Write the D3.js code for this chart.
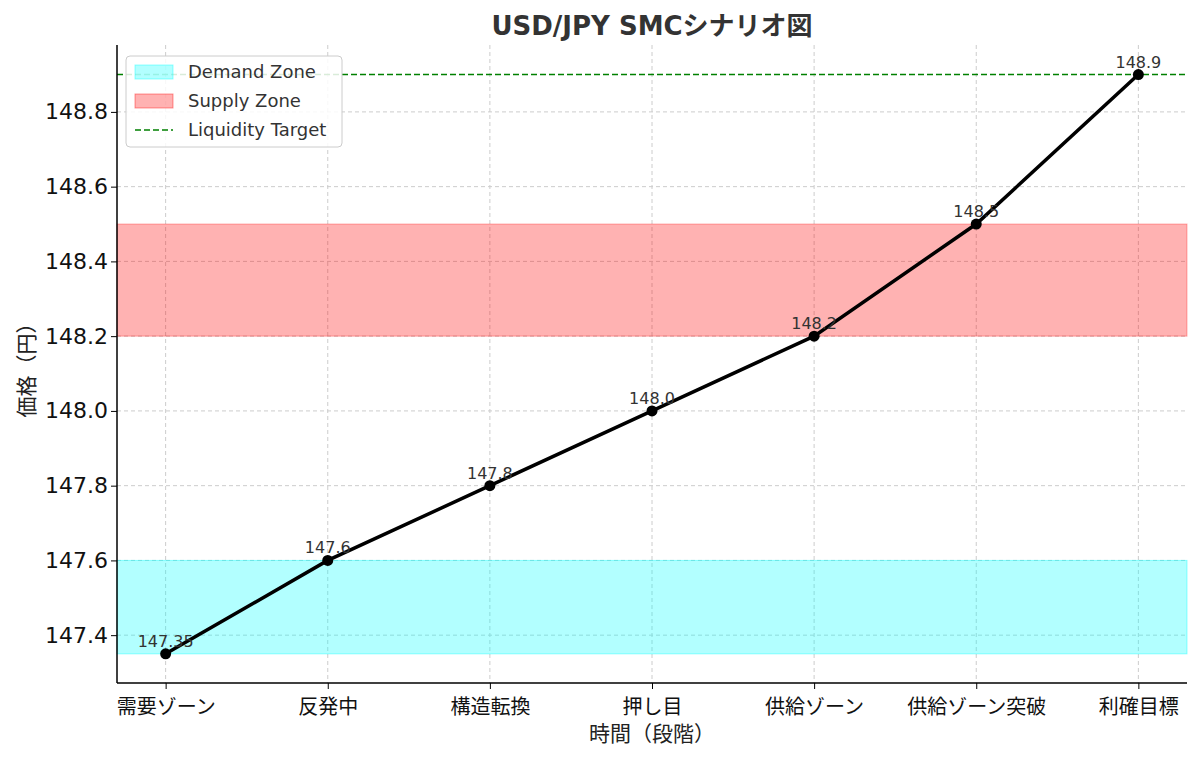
<!DOCTYPE html>
<html><head><meta charset="utf-8">
<script src="https://cdn.jsdelivr.net/npm/d3@7"></script>
<style>body{margin:0;background:#fff;font-family:"DejaVu Sans","Noto Sans CJK JP",sans-serif}</style>
</head><body>
<svg id="canvas" width="1200" height="757"></svg>
<script>
let phases = ["需要ゾーン", "反発中", "構造転換", "押し目", "供給ゾーン", "供給ゾーン突破", "利確目標"]
let prices = [147.35, 147.6, 147.8, 148.0, 148.2, 148.5, 148.9]
let priceLabels = ["147.35", "147.6", "147.8", "148.0", "148.2", "148.5", "148.9"]
let yTicks = [147.4, 147.6, 147.8, 148.0, 148.2, 148.4, 148.6, 148.8]
let demandZone = [147.35, 147.6]
let supplyZone = [148.2, 148.5]
let liquidityTarget = 148.9

let svg = d3.select("#canvas")
let m = {l: 117, r: 1187, t: 45, b: 683}

let x = d3.scalePoint().domain(phases).range([m.l, m.r]).padding(0.3)
let y = d3.scaleLinear().domain([147.272, 148.979]).range([m.b, m.t])

//grid
svg.append("g").selectAll("line").data(phases).join("line")
    .attr("x1", d => x(d)).attr("x2", d => x(d)).attr("y1", m.t).attr("y2", m.b)
    .attr("stroke", "#ccc").attr("stroke-dasharray", "4,3")
svg.append("g").selectAll("line").data(yTicks).join("line")
    .attr("x1", m.l).attr("x2", m.r).attr("y1", d => y(d)).attr("y2", d => y(d))
    .attr("stroke", "#ccc").attr("stroke-dasharray", "4,3")

//zones
svg.append("rect").attr("x", m.l).attr("width", m.r - m.l)
    .attr("y", y(demandZone[1])).attr("height", y(demandZone[0]) - y(demandZone[1]))
    .attr("fill", "cyan").attr("fill-opacity", 0.3).attr("stroke", "cyan").attr("stroke-opacity", 0.4)
svg.append("rect").attr("x", m.l).attr("width", m.r - m.l)
    .attr("y", y(supplyZone[1])).attr("height", y(supplyZone[0]) - y(supplyZone[1]))
    .attr("fill", "red").attr("fill-opacity", 0.3).attr("stroke", "red").attr("stroke-opacity", 0.3)

svg.append("line").attr("x1", m.l).attr("x2", m.r)
    .attr("y1", y(liquidityTarget)).attr("y2", y(liquidityTarget))
    .attr("stroke", "green").attr("stroke-width", 1.5).attr("stroke-dasharray", "6,3")

//line + points
svg.append("path").datum(prices)
    .attr("d", d3.line().x((d, i) => x(phases[i])).y(d => y(d)))
    .attr("fill", "none").attr("stroke", "black").attr("stroke-width", 3.5)
svg.append("g").selectAll("circle").data(prices).join("circle")
    .attr("cx", (d, i) => x(phases[i])).attr("cy", d => y(d)).attr("r", 5.5).attr("fill", "black")
svg.append("g").selectAll("text").data(prices).join("text")
    .attr("x", (d, i) => x(phases[i])).attr("y", d => y(d) - 7)
    .attr("text-anchor", "middle").attr("font-size", 16).attr("fill", "#333")
    .text((d, i) => priceLabels[i])

//axes
let xAxis = svg.append("g").attr("transform", `translate(0,${m.b})`)
    .call(d3.axisBottom(x).tickSize(6).tickSizeOuter(0))
let yAxis = svg.append("g").attr("transform", `translate(${m.l},0)`)
    .call(d3.axisLeft(y).tickValues(yTicks).tickFormat(d3.format(".1f")).tickSize(6).tickSizeOuter(0))
for (let a of [xAxis, yAxis]) {
    a.select(".domain").attr("stroke-width", 1.5)
    a.selectAll("text").attr("font-size", 20).attr("fill", "#111")
        .style("font-family", '"DejaVu Sans","Noto Sans CJK JP",sans-serif')
}
yAxis.selectAll("text").attr("font-size", 22)
xAxis.selectAll("text").attr("dy", "1.1em")
yAxis.select(".domain").attr("d", `M0,${m.t}V${m.b}`)
xAxis.select(".domain").attr("d", `M${m.l},0H${m.r}`)

svg.append("text").attr("x", 652).attr("y", 35).attr("text-anchor", "middle")
    .attr("font-size", 26).attr("font-weight", "bold").attr("fill", "#333")
    .text("USD/JPY SMCシナリオ図")
svg.append("text").attr("x", 652).attr("y", 741).attr("text-anchor", "middle")
    .attr("font-size", 21).attr("fill", "#222").text("時間（段階）")
svg.append("text").attr("transform", "translate(34,365) rotate(-90)").attr("text-anchor", "middle")
    .attr("font-size", 21).attr("fill", "#222").text("価格（円）")

//legend
let lg = svg.append("g").attr("transform", "translate(126,56)")
lg.append("rect").attr("width", 216).attr("height", 91).attr("rx", 4)
    .attr("fill", "white").attr("fill-opacity", 0.85).attr("stroke", "#ccc")
let items = [["Demand Zone", "cyan", "rect"], ["Supply Zone", "red", "rect"], ["Liquidity Target", "green", "line"]]
items.forEach((it, i) => {
    let gy = 16 + i * 29
    if (it[2] == "rect") {
        lg.append("rect").attr("x", 9).attr("y", gy - 7).attr("width", 38).attr("height", 14)
            .attr("fill", it[1]).attr("fill-opacity", 0.3).attr("stroke", it[1]).attr("stroke-opacity", 0.4)
    } else {
        lg.append("line").attr("x1", 9).attr("x2", 47).attr("y1", gy).attr("y2", gy)
            .attr("stroke", it[1]).attr("stroke-width", 1.5).attr("stroke-dasharray", "6,3")
    }
    lg.append("text").attr("x", 62).attr("y", gy + 6).attr("font-size", 18).attr("fill", "#333").text(it[0])
})
</script>
</body></html>
